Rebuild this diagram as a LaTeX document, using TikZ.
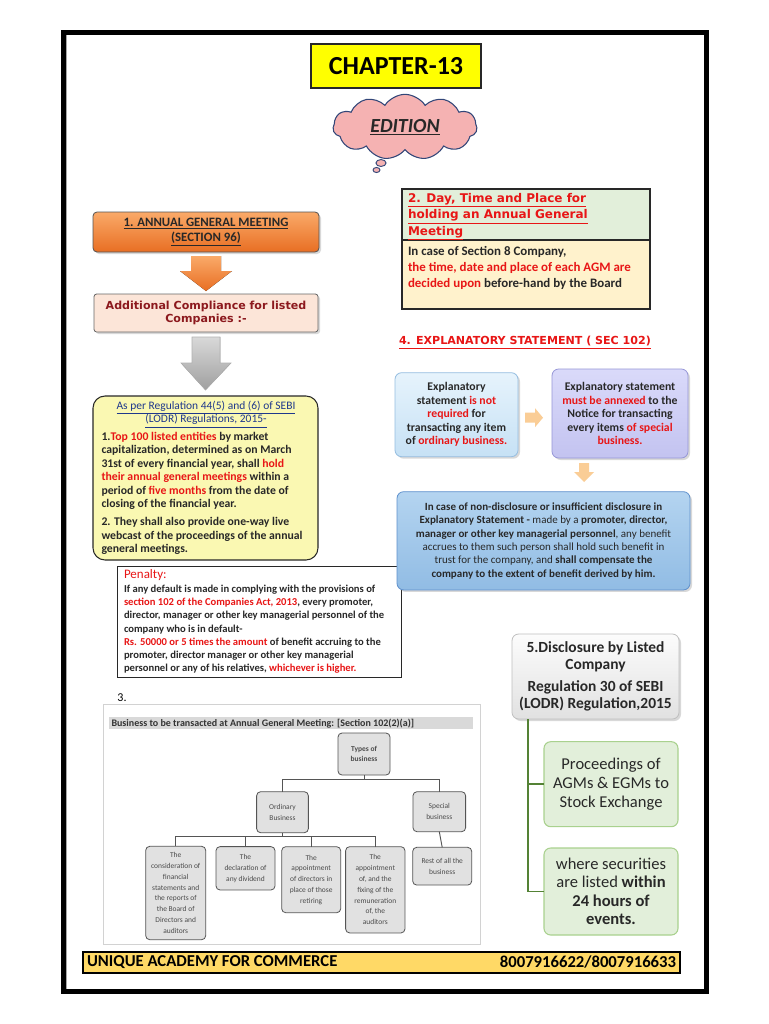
\documentclass[tikz,border=0pt]{standalone}
\usepackage{fontspec}
\setmainfont{Carlito}
\newfontfamily\comic{DejaVu Sans}
\usetikzlibrary{shapes.symbols,shadows,calc}
\definecolor{rd}{RGB}{232,22,22}
\definecolor{dk}{RGB}{40,40,40}
\definecolor{bluet}{RGB}{31,56,140}
\definecolor{chapy}{RGB}{255,255,0}
\definecolor{cloudp}{RGB}{245,178,178}
\definecolor{cloudb}{RGB}{50,70,120}
\definecolor{orA}{RGB}{250,170,105}
\definecolor{orB}{RGB}{232,110,35}
\definecolor{addp}{RGB}{252,229,216}
\definecolor{addt}{RGB}{140,25,30}
\definecolor{yelb}{RGB}{250,248,178}
\definecolor{dayh}{RGB}{226,239,218}
\definecolor{dayb}{RGB}{255,242,204}
\definecolor{lbA}{RGB}{230,243,252}
\definecolor{lbB}{RGB}{198,225,245}
\definecolor{lbD}{RGB}{150,190,225}
\definecolor{puA}{RGB}{218,218,250}
\definecolor{puB}{RGB}{195,195,240}
\definecolor{puD}{RGB}{150,150,215}
\definecolor{bbA}{RGB}{180,212,240}
\definecolor{bbB}{RGB}{145,188,228}
\definecolor{bbD}{RGB}{95,145,205}
\definecolor{peach}{RGB}{250,205,150}
\definecolor{grf}{RGB}{226,239,218}
\definecolor{grd}{RGB}{169,209,142}
\definecolor{grl}{RGB}{84,130,53}
\definecolor{chf}{RGB}{225,225,225}
\definecolor{chd}{RGB}{85,85,85}
\definecolor{cht}{RGB}{75,75,75}
\definecolor{foot}{RGB}{255,217,102}
\definecolor{grA}{RGB}{252,252,252}
\definecolor{grB}{RGB}{225,225,225}
\newcommand{\redt}[1]{\textcolor{rd}{#1}}
\newcommand{\myfs}[2]{\fontsize{#1}{#2}\selectfont}
\begin{document}
\begin{tikzpicture}[x=0.75pt,y=-0.75pt,
  every node/.style={inner sep=0pt,outer sep=0pt},
  shd/.style={drop shadow={shadow xshift=1.5pt,shadow yshift=-1.5pt,opacity=0.3}},
  chn/.style={draw=chd,line width=0.6pt,fill=chf,rounded corners=3pt,align=center,font=\myfs{5.6}{8.1},text=cht},
  chl/.style={draw=chd,line width=0.7pt},
  grbox/.style={draw=grd,line width=0.8pt,fill=grf,rounded corners=5pt,align=center,text=dk,minimum width=100.5pt}
]
\useasboundingbox (0,0) rectangle (768,1024);
\fill[white] (0,0) rectangle (768,1024);
% page border
\draw[line width=3.2pt] (63.5,32.5) rectangle (706.5,991.5);
\draw[gray!70,line width=0.8pt] (66.5,35.5) -- (66.5,988.5);

% title
\node[draw=dk,fill=chapy,line width=0.9pt,minimum width=127.5pt,minimum height=33pt,font=\bfseries\myfs{19.5}{21}] (chap) at (396,66) {CHAPTER-13};
\node[cloud,cloud puffs=11,cloud puff arc=115,aspect=2.2,draw=cloudb,fill=cloudp,line width=0.8pt,minimum width=108pt,minimum height=49pt,font=\bfseries\itshape\myfs{15}{17},text=dk] (ed) at (405,127) {\underline{EDITION}};
\draw[cloudb,fill=cloudp,line width=0.7pt] (381,163) ellipse (3.8pt and 2.6pt);
\draw[cloudb,fill=cloudp,line width=0.7pt] (376.5,170) ellipse (2.6pt and 1.9pt);

% left column
\node[draw=dk!80,line width=0.6pt,rounded corners=3pt,top color=orA,bottom color=orB,minimum width=169.5pt,minimum height=30pt,align=center,font=\bfseries\myfs{9.6}{10.7},text=dk,shd] (agm) at (206,232) {\underline{1. ANNUAL GENERAL MEETING}\\\underline{(SECTION 96)}};
\node[draw=gray!80!black,line width=0.6pt,rounded corners=2pt,fill=addp,minimum width=168pt,minimum height=28.5pt,align=center,font=\comic\bfseries\myfs{8.3}{10},text=addt,shd] (add) at (206,313) {Additional Compliance for listed\\Companies :-};
\fill[top color=orA,bottom color=orB] ($(agm.south)+(-15,4)$) -- ($(agm.south)+(15,4)$) -- ($(agm.south)+(15,19)$) -- ($(agm.south)+(26,19)$) -- ($(add.north)+(0,-3)$) -- ($(agm.south)+(-26,19)$) -- ($(agm.south)+(-15,19)$) -- cycle;
\node[draw=dk,line width=0.8pt,rounded corners=9pt,fill=yelb,minimum width=168.75pt,minimum height=123pt] (yel) at (205.5,478) {};
\fill[top color=gray!30,bottom color=gray!75,draw=gray!60] ($(add.south)+(-14,5)$) -- ($(add.south)+(14,5)$) -- ($(add.south)+(14,31)$) -- ($(add.south)+(25,31)$) -- ($(yel.north)+(0,-6)$) -- ($(add.south)+(-25,31)$) -- ($(add.south)+(-14,31)$) -- cycle;
\node[anchor=north,align=center,font=\myfs{8.6}{10.2},text=bluet] (yelt) at (206,401) {\underline{As per Regulation 44(5) and (6) of SEBI}\\\underline{(LODR) Regulations, 2015-}};
\node[anchor=north west,align=left,font=\bfseries\myfs{8.8}{10.1},text=dk] (yelx) at (101.5,432) {1.\redt{Top 100 listed entities} by market\\capitalization, determined as on March\\31st of every financial year, shall \redt{hold}\\\redt{their annual general meetings} within a\\period of \redt{five months} from the date of\\closing of the financial year.\\[3.6pt]2. They shall also provide one-way live\\webcast of the proceedings of the annual\\general meetings.};

\node[draw=dk,line width=0.8pt,fill=white,minimum width=213pt,minimum height=83.5pt] (pen) at (259.5,621.7) {};
\node[anchor=west,font=\myfs{9.75}{11},text=rd] (pent) at (124,575.5) {Penalty:};
\node[anchor=north west,align=left,font=\bfseries\myfs{7.95}{9.9},text=dk] (penx) at (124,585) {If any default is made in complying with the provisions of\\\redt{section 102 of the Companies Act, 2013}, every promoter,\\director, manager or other key managerial personnel of the\\company who is in default-\\\redt{Rs. 50000 or 5 times the amount} of benefit accruing to the\\promoter, director manager or other key managerial\\personnel or any of his relatives, \redt{whichever is higher.}};

% right column
\node[draw=dk,line width=0.8pt,fill=dayh,minimum width=186pt,minimum height=38.25pt] (dayh) at (526,214.5) {};
\node[draw=dk,line width=0.8pt,fill=dayb,minimum width=186pt,minimum height=51.75pt] (dayb) at (526,274.5) {};
\node[anchor=north west,align=left,font=\comic\bfseries\myfs{9}{12.4},text=rd] (dayt) at (408,193) {\underline{2. Day, Time and Place for}\\\underline{holding an Annual General}\\\underline{Meeting}};
\node[anchor=north west,align=left,font=\bfseries\myfs{9.7}{12},text=dk] (dayx) at (408,246.5) {In case of Section 8 Company,\\\redt{the time, date and place of each AGM are}\\\redt{decided upon} before-hand by the Board};

\node[anchor=west,font=\comic\bfseries\myfs{8.3}{10},text=rd] (exh) at (399,342.7) {\underline{4. EXPLANATORY STATEMENT ( SEC 102)}};
\node[draw=lbD,line width=0.6pt,rounded corners=5pt,top color=lbA,bottom color=lbB,minimum width=92.25pt,minimum height=63pt,align=center,font=\bfseries\myfs{8.8}{10.1},text=dk,shd] (b1) at (456.5,414.7) {Explanatory\\statement \redt{is not}\\\redt{required} for\\transacting any item\\of \redt{ordinary business.}};
\node[draw=puD,line width=0.6pt,rounded corners=5pt,top color=puA,bottom color=puB,minimum width=102pt,minimum height=66.75pt,align=center,font=\bfseries\myfs{8.8}{10.1},text=dk,shd] (p1) at (620,413.5) {Explanatory statement\\\redt{must be annexed} to the\\Notice for transacting\\every items \redt{of special}\\\redt{business.}};
\fill[peach] ($(b1.east)+(7,-2)$) -- ++(10,0) -- ++(0,-4.5) -- ++(8,9.5) -- ++(-8,9.5) -- ++(0,-4.5) -- ++(-10,0) -- cycle;
\node[draw=bbD,line width=0.6pt,rounded corners=5pt,top color=bbA,bottom color=bbB,minimum width=219.75pt,minimum height=73.7pt,align=center,font=\myfs{8.25}{10},text=dk,shd] (nd) at (543.5,540.8) {{\bfseries In case of non-disclosure or insufficient disclosure in}\\{\bfseries Explanatory Statement -} made by a {\bfseries promoter, director,}\\{\bfseries manager or other key managerial personnel}, any benefit\\accrues to them such person shall hold such benefit in\\trust for the company, and {\bfseries shall compensate the}\\{\bfseries company to the extent of benefit derived by him.}};
\fill[peach] ($(p1.south)+(-41,5)$) -- ++(10,0) -- ++(0,9) -- ++(5,0) -- ++(-10,10) -- ++(-10,-10) -- ++(5,0) -- cycle;

\node[draw=gray!50,line width=0.6pt,rounded corners=5pt,top color=grA,bottom color=grB,minimum width=125.25pt,minimum height=63.75pt,align=center,font=\bfseries\myfs{11.6}{12.5},text=dk,shd] (disc) at (595.5,676.5) {5.Disclosure by Listed\\Company\\[4.2pt]Regulation 30 of SEBI\\(LODR) Regulation,2015};
\node[grbox,minimum height=63.75pt,font=\myfs{12.4}{14.25}] (g1) at (611,784.2) {Proceedings of\\AGMs \& EGMs to\\Stock Exchange};
\node[grbox,minimum height=65.25pt,font=\myfs{12.4}{13.9}] (g2) at (611,891.5) {where securities\\are listed \textbf{within}\\\textbf{24 hours of}\\\textbf{events.}};
\coordinate (gs) at ($(disc.south west)+(16,0)$);
\draw[grl,line width=1.4pt] (gs) |- (g2.west);
\draw[grl,line width=1.4pt] (gs |- g1.west) -- (g1.west);

% chart
\node[font=\myfs{9}{10}] (three) at (122,698) {3.};
\node[draw=gray!35,fill=white,line width=0.6pt,minimum width=282.75pt,minimum height=180pt,drop shadow={shadow xshift=1pt,shadow yshift=-1pt,opacity=0.2}] (panel) at (291.5,824) {};
\node[fill=gray!30,minimum width=273pt,minimum height=9.5pt] (hbar) at (291,723) {};
\node[anchor=west,font=\bfseries\myfs{7.5}{8},text=black!80] (htxt) at (111.5,723.3) {Business to be transacted at Annual General Meeting: [Section 102(2)(a)]};
\node[chn,minimum width=39pt,minimum height=31.5pt,font=\bfseries\myfs{5.6}{8.1}] (t) at (364,754) {Types of\\business};
\node[chn,minimum width=38.8pt,minimum height=30.75pt] (o) at (282.5,812.2) {Ordinary\\Business};
\node[chn,minimum width=39.5pt,minimum height=30pt] (s) at (439.3,811.7) {Special\\business};
\node[chn,minimum width=45pt,minimum height=70pt] (l1) at (175.7,893) {The\\consideration  of\\financial\\statements and\\the reports of\\the Board of\\Directors and\\auditors};
\node[chn,minimum width=44.25pt,minimum height=32.5pt] (l2) at (245.5,868.3) {The\\declaration of\\any dividend};
\node[chn,minimum width=44.25pt,minimum height=49.5pt] (l3) at (311.2,879.7) {The\\appointment\\of directors in\\place of those\\retiring};
\node[chn,minimum width=44.5pt,minimum height=64.7pt] (l4) at (375.3,889.8) {The\\appointment\\of, and the\\fixing of the\\remuneration\\of, the\\auditors};
\node[chn,minimum width=44.25pt,minimum height=28.3pt] (l5) at (442.2,866.2) {Rest of all the\\business};
\coordinate (tj) at ($(t.south)+(0,4.3)$);
\draw[chl] (t.south) -- (tj);
\draw[chl] (o.north) |- (tj) -| (s.north);
\coordinate (oj) at ($(o.south)+(0,3.5)$);
\draw[chl] (o.south) -- (oj);
\draw[chl] (l1.north) |- (oj) -| (l4.north);
\draw[chl] (l2.north) -- (l2.north |- oj);
\draw[chl] (l3.north) -- (l3.north |- oj);
\draw[chl] (s.south) -- (l5.north);

% footer
\node[draw=black,line width=0.8pt,fill=foot,minimum width=447.75pt,minimum height=15.75pt] (foot) at (381.5,962.5) {};
\node[anchor=west,font=\bfseries\myfs{12.5}{13},text=black] (ft1) at (87,962.5) {UNIQUE ACADEMY FOR COMMERCE};
\node[anchor=east,font=\bfseries\myfs{12.5}{13},text=black] (ft2) at (676,962.5) {8007916622/8007916633};
\end{tikzpicture}
\end{document}
